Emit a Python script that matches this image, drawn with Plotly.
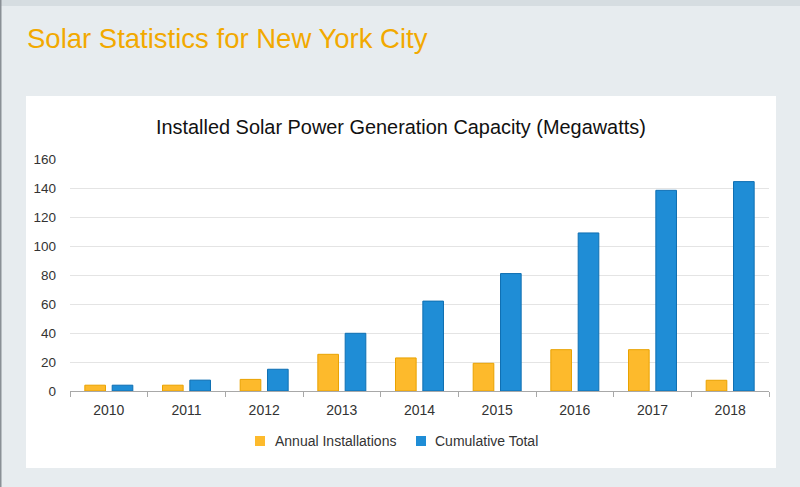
import plotly.graph_objects as go

years = ["2010", "2011", "2012", "2013", "2014", "2015", "2016", "2017", "2018"]
annual = [4, 4, 8, 25.3, 22.8, 19.1, 28.5, 28.5, 7.4]
cumulative = [4, 7.5, 15, 39.8, 62, 81, 109, 138.4, 144.4]

series_names = ["Annual Installations", "Cumulative Total"]
fill_colors = ["#FDBA2C", "#1F8DD6"]
edge_colors = ["#E9A200", "#0F6FB2"]

W, H = 800, 487
L, R, T, B = 70, 769, 159, 391  # plot area in px
FONT = "Liberation Sans, Arial, sans-serif"


def px_x(x):
    return (x - L) / (R - L)


def px_y(y):
    return (B - y) / (B - T)


fig = go.Figure()
for name, vals, fc, ec in zip(series_names, [annual, cumulative], fill_colors, edge_colors):
    fig.add_trace(go.Bar(
        x=years, y=vals, name=name,
        marker=dict(color=fc, line=dict(color=ec, width=1)),
    ))

shapes = [
    # white panel
    dict(type="rect", xref="paper", yref="paper", layer="below",
         x0=px_x(26), x1=px_x(776), y0=px_y(468), y1=px_y(96),
         fillcolor="white", line=dict(width=0)),
    # top band
    dict(type="rect", xref="paper", yref="paper", layer="below",
         x0=px_x(0), x1=px_x(800), y0=px_y(6), y1=px_y(0),
         fillcolor="#D6DDE1", line=dict(width=0)),
    # left border
    dict(type="rect", xref="paper", yref="paper", layer="below",
         x0=px_x(0), x1=px_x(1.5), y0=px_y(487), y1=px_y(0),
         fillcolor="#8A9096", line=dict(width=0)),
]

annotations = [
    dict(text="Solar Statistics for New York City", xref="paper", yref="paper",
         x=px_x(25), y=px_y(38), xanchor="left", yanchor="middle", showarrow=False,
         font=dict(family=FONT, size=27.5, color="#F2A900")),
    dict(text="Installed Solar Power Generation Capacity (Megawatts)", xref="paper", yref="paper",
         x=px_x(401), y=px_y(127), xanchor="center", yanchor="middle", showarrow=False,
         font=dict(family=FONT, size=19.9, color="#111111")),
]

# manual legend
legend_items = [(255, 273), (416, 433)]  # (square left px, text left px)
for (sq_x, tx_x), name, fc in zip(legend_items, series_names, fill_colors):
    shapes.append(dict(type="rect", xref="paper", yref="paper",
                       x0=px_x(sq_x), x1=px_x(sq_x + 10), y0=px_y(446), y1=px_y(436),
                       fillcolor=fc, line=dict(width=0)))
    annotations.append(dict(text=name, xref="paper", yref="paper",
                            x=px_x(tx_x), y=px_y(441), xanchor="left", yanchor="middle",
                            showarrow=False, font=dict(family=FONT, size=14, color="#333333")))

fig.update_layout(
    width=W, height=H,
    margin=dict(l=L, r=W - R, t=T, b=H - B, pad=0),
    paper_bgcolor="#E7ECEF",
    plot_bgcolor="rgba(0,0,0,0)",
    barmode="group",
    bargap=0.296,
    bargroupgap=0.245,
    font=dict(family=FONT, size=14, color="#333333"),
    shapes=shapes,
    annotations=annotations,
    showlegend=False,
    xaxis=dict(type="category", showline=True, linecolor="#A8A8A8", linewidth=1,
               ticks="outside", tickson="boundaries", ticklen=5, tickcolor="#A8A8A8",
               ticklabelstandoff=6,
               showgrid=False, tickfont=dict(size=14, color="#333333")),
    yaxis=dict(range=[0, 160], dtick=20, showgrid=True, gridcolor="#E4E4E4", gridwidth=1,
               zeroline=False, showline=False, ticks="", ticklabelstandoff=13,
               tickfont=dict(size=13.5, color="#333333")),
)

fig.write_html("out.html")
